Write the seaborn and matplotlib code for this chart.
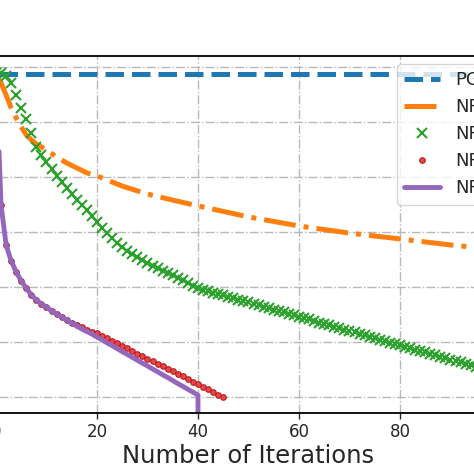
import numpy as np
import seaborn as sns
import matplotlib
matplotlib.use('Agg')
import matplotlib.pyplot as plt

# values are log10 of the plotted quantity
pg_iter = [0, 20, 40, 60, 80, 100]
pg_log = [-0.24, -0.24, -0.24, -0.24, -0.24, -0.24]

npg1_iter = [0, 1, 2, 3, 4, 5, 6, 7, 8, 10, 12, 14, 16, 18, 20, 25, 30, 35,
             40, 50, 60, 70, 80, 90, 100]
npg1_log = [-0.22, -0.58, -1.02, -1.49, -1.85, -2.18, -2.47, -2.65, -2.80,
            -3.02, -3.27, -3.49, -3.67, -3.85, -3.96, -4.33, -4.62, -4.84,
            -5.05, -5.45, -5.78, -6.04, -6.25, -6.47, -6.65]

npg2_log = [-0.22, -0.22, -0.33, -0.58, -1.02, -1.49, -1.89, -2.40, -2.91,
            -3.20, -3.45, -3.71, -3.96, -4.18, -4.40, -4.62, -4.84, -5.02,
            -5.20, -5.42, -5.64, -5.85, -6.04, -6.22, -6.40, -6.55, -6.69,
            -6.80, -6.91, -7.02, -7.13, -7.22, -7.31, -7.40, -7.49, -7.58,
            -7.67, -7.76, -7.85, -7.95, -8.04, -8.09, -8.14, -8.20, -8.25,
            -8.30, -8.35, -8.40, -8.46, -8.51, -8.56, -8.61, -8.66, -8.72,
            -8.77, -8.82, -8.87, -8.92, -8.98, -9.03, -9.08, -9.13, -9.18,
            -9.24, -9.29, -9.34, -9.39, -9.44, -9.50, -9.55, -9.60, -9.65,
            -9.70, -9.76, -9.81, -9.86, -9.91, -9.96, -10.02, -10.07, -10.12,
            -10.17, -10.22, -10.28, -10.33, -10.38, -10.43, -10.48, -10.54,
            -10.59, -10.64, -10.69, -10.74, -10.80, -10.85, -10.90, -10.95,
            -11.00, -11.06, -11.11, -11.16]

npg3_log = [-0.22, -5.02, -6.47, -7.05, -7.45, -7.78, -8.04, -8.29, -8.47,
            -8.62, -8.73, -8.87, -8.98, -9.09, -9.20, -9.29, -9.38, -9.47,
            -9.56, -9.62, -9.67, -9.77, -9.86, -9.95, -10.04, -10.14, -10.23,
            -10.32, -10.42, -10.51, -10.60, -10.70, -10.79, -10.88, -10.98,
            -11.07, -11.16, -11.25, -11.35, -11.44, -11.53, -11.62, -11.72,
            -11.81, -11.91, -12.00]

npg4_log = [-0.22, -5.02, -6.47, -7.05, -7.45, -7.78, -8.04, -8.29, -8.47,
            -8.62, -8.73, -8.87, -8.98, -9.09, -9.20, -9.31, -9.42, -9.53,
            -9.62, -9.71, -9.82, -9.92, -10.03, -10.13, -10.24, -10.35,
            -10.45, -10.56, -10.66, -10.77, -10.87, -10.98, -11.08, -11.19,
            -11.29, -11.40, -11.51, -11.61, -11.72, -11.82, -11.93]
# exactly zero after the last step (drops off the log axis)
npg4_tail = 0.0

labels = ['PG', 'NPG-I', 'NPG-II', 'NPG-III', 'NPG-IV']
x_ticks = [0, 20, 40, 60, 80, 100]


def main():
    sns.set_style('white')
    fig = plt.figure(figsize=(4.74, 4.74), dpi=100)
    ax = fig.add_axes([-29.25 / 474, 61 / 474, 555.5 / 474, 357 / 474])

    sns.lineplot(x=pg_iter, y=10.0 ** np.array(pg_log), ax=ax,
                 color='tab:blue', lw=3.6, ls='--', label=labels[0])
    sns.lineplot(x=npg1_iter, y=10.0 ** np.array(npg1_log), ax=ax,
                 color='tab:orange', lw=3.6, ls='-.', label=labels[1])
    sns.lineplot(x=np.arange(len(npg2_log)), y=10.0 ** np.array(npg2_log),
                 ax=ax, color='tab:green', ls='', marker='x', markersize=7,
                 mec='tab:green', mew=1.5, label=labels[2])
    sns.lineplot(x=np.arange(len(npg3_log)), y=10.0 ** np.array(npg3_log),
                 ax=ax, color='tab:red', ls='', marker='o', markersize=4,
                 mfc='#e8484a', mec='#b8191c', mew=0.8, label=labels[3])
    y4 = np.append(10.0 ** np.array(npg4_log), npg4_tail)
    sns.lineplot(x=np.arange(len(y4)), y=y4, ax=ax,
                 color='tab:purple', lw=3.5, label=labels[4])

    ax.set_yscale('log', nonpositive='clip')
    ax.set_xlim(-5, 105)
    ax.set_ylim(10 ** -12.58, 10 ** 0.4)
    ax.set_xticks(x_ticks)
    # y labels sit outside the cropped figure, so they are not drawn
    ax.set_yticks([10.0 ** k for k in range(0, -13, -2)])
    ax.set_yticklabels([])
    ax.minorticks_off()
    ax.tick_params(axis='x', labelsize=12, length=4, width=1,
                   direction='out', bottom=True)
    ax.grid(True, ls='-.', color='#b8b8b8', lw=1)
    for s in ax.spines.values():
        s.set_color('black')
        s.set_linewidth(1.3)
    ax.set_xlabel('Number of Iterations', fontsize=17.5, labelpad=2)

    ax.legend(loc='upper left', bbox_to_anchor=(397 / 474, 1 - 64 / 474),
              bbox_transform=fig.transFigure, fontsize=13, framealpha=0.8,
              borderaxespad=0)

    fig.savefig('out.png', dpi=100)


if __name__ == '__main__':
    main()
